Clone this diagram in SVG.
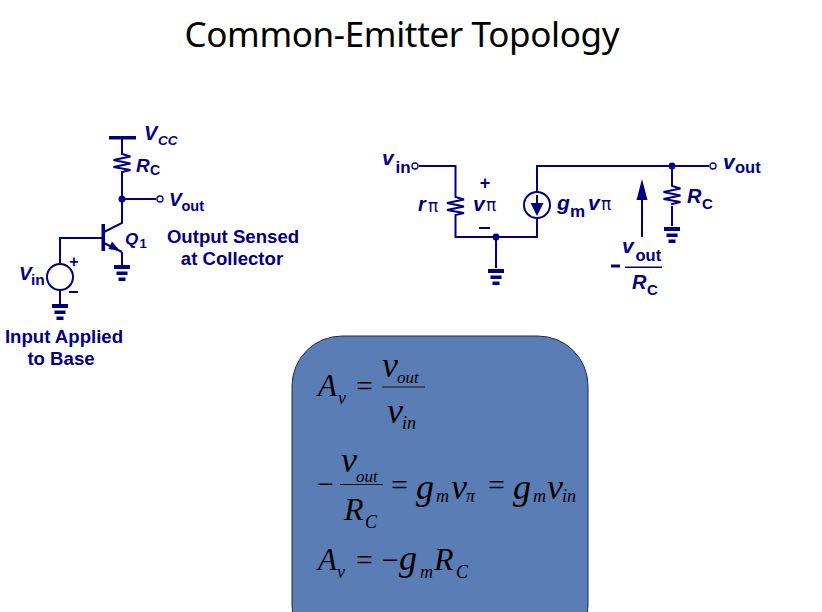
<svg xmlns="http://www.w3.org/2000/svg" width="822" height="612" viewBox="0 0 822 612">
<style>
.w{fill:none;stroke:#000080;stroke-width:2}
.r{fill:none;stroke:#000080;stroke-width:1.900;stroke-linejoin:miter}
.d{fill:#000080}
.o{fill:#fff;stroke:#000080;stroke-width:1.300}
.a{font-family:"Liberation Sans",Arial,sans-serif;fill:#000080;font-weight:700}
.i{font-style:italic}
.n{font-style:normal}
.p{font-family:"DejaVu Sans",sans-serif;font-weight:400;font-style:normal;font-size:17px}
.m{font-family:"Liberation Serif","Times New Roman",serif;fill:#000;font-style:italic}
.e{font-family:"Liberation Serif","Times New Roman",serif;fill:#000;font-size:30px}
.b{fill:none;stroke:#111;stroke-width:1.200}
</style>
<defs>
<g id="gnd"><rect x="-8" y="-1" width="16" height="4" class="d"/><rect x="-5.500" y="5.500" width="11" height="3.500" class="d"/><rect x="-3.500" y="11.500" width="7" height="3.500" class="d"/></g>
<path id="res" class="r" d="M0 0L0 2L8.500 4.500L-8.500 8L8.500 11.500L-8.500 15L8.500 18L0 20L0 21"/>
</defs>
<text x="402" y="47" text-anchor="middle" style="font-family:'Noto Sans',sans-serif;font-size:35px;fill:#000" textLength="435" lengthAdjust="spacing">Common-Emitter Topology</text>

<g id="connectors">
<path class="w" d="M122 138V153M122 172V223L104 232M60 263V238H102M122 252V266M60 290V304"/>
<path class="w" d="M122 199H156"/>
<path class="w" d="M419 166H455.500V195M455.500 216V237H537V218M537 192V166H709M496 237V268M672 166V185M672 206V226"/>
<path class="w" d="M642 237V195"/>
<path class="d" d="M642 179L647.500 200H636.500Z"/>
</g>

<g id="q1">
<rect x="109" y="136" width="27" height="3.500" class="d"/>
<use href="#res" x="122" y="152"/>
<circle cx="122" cy="199" r="3.500" class="d"/>
<circle cx="160" cy="199" r="3" class="o"/>
<rect x="101.500" y="224" width="3.500" height="27" class="d"/>
<path class="w" d="M104 243L122 252"/>
<path class="d" d="M120 251L108.500 249L112 241.500Z"/>
<use href="#gnd" x="122" y="266"/>
<circle cx="60" cy="277" r="13" fill="#fff" stroke="#000080" stroke-width="2"/>
<use href="#gnd" x="60" y="305"/>
<text class="a i" x="144" y="140" font-size="20">V<tspan font-size="13.500" x="158" y="145">CC</tspan></text>
<text class="a i" x="136" y="172" font-size="19">R<tspan font-size="14" x="150" y="175" class="n">C</tspan></text>
<text class="a i" x="169" y="206" font-size="19">V<tspan font-size="14.500" x="181.500" y="211" class="n">out</tspan></text>
<text class="a i" x="125" y="245" font-size="17">Q<tspan font-size="13" x="139.500" y="248" class="n">1</tspan></text>
<text class="a" x="233" y="243" font-size="18.600" text-anchor="middle">Output Sensed</text>
<text class="a" x="232" y="265" font-size="18.600" text-anchor="middle">at Collector</text>
<text class="a i" x="19" y="280" font-size="19">V<tspan font-size="15.500" x="31" y="285" class="n">in</tspan></text>
<text class="a" x="74" y="267" font-size="16" text-anchor="middle">+</text>
<rect x="69" y="291" width="9" height="2" class="d"/>
<text class="a" x="64" y="343" font-size="18.600" text-anchor="middle">Input Applied</text>
<text class="a" x="61" y="365" font-size="18.600" text-anchor="middle">to Base</text>
</g>

<g id="small-signal">
<circle cx="415" cy="166" r="3" class="o"/>
<use href="#res" x="455.500" y="195"/>
<circle cx="496" cy="237" r="3.500" class="d"/>
<use href="#gnd" x="496" y="270"/>
<circle cx="537" cy="205" r="13" fill="#fff" stroke="#000080" stroke-width="2"/>
<path class="w" d="M537 195V205"/>
<path class="d" d="M537 216L530.500 203H543.500Z"/>
<circle cx="672" cy="166" r="3.500" class="d"/>
<circle cx="713" cy="166" r="3" class="o"/>
<use href="#res" x="672" y="184"/>
<use href="#gnd" x="672" y="228"/>
<text class="a i" x="382" y="165" font-size="21">v<tspan font-size="17" x="395.500" y="173" class="n">in</tspan></text>
<text class="a i" x="723" y="169" font-size="21">v<tspan font-size="16.500" x="735" y="173" class="n">out</tspan></text>
<text class="a i" x="418" y="211" font-size="20">r<tspan class="p" x="428" y="212">π</tspan></text>
<text class="a" x="485" y="189" font-size="18" text-anchor="middle">+</text>
<text class="a i" x="473" y="211" font-size="21">v<tspan class="p" x="486" y="211">π</tspan></text>
<rect x="479" y="227" width="11" height="2" class="d"/>
<text class="a i" x="557" y="210" font-size="21">g<tspan font-size="17" x="570" y="217" class="n">m</tspan><tspan x="588" y="210">v</tspan><tspan class="p" x="601" y="210">π</tspan></text>
<text class="a i" x="687" y="203" font-size="20">R<tspan font-size="15" x="702" y="209" class="n">C</tspan></text>
<rect x="611" y="264.500" width="9" height="3" class="d"/>
<text class="a i" x="622" y="253" font-size="21">v<tspan font-size="16.500" x="635.500" y="261" class="n">out</tspan></text>
<rect x="625" y="266.500" width="37" height="1.500" class="d"/>
<text class="a i" x="632" y="289" font-size="20">R<tspan font-size="15" x="647" y="295" class="n">C</tspan></text>
</g>

<g id="equations">
<rect x="292" y="336" width="296" height="320" rx="50" fill="#5a7db5" stroke="#1f2f4a" stroke-width="1"/>
<text class="m" x="318" y="396" font-size="31">A<tspan font-size="18" x="338" y="404">v</tspan></text>
<text class="e" x="356" y="396">=</text>
<text class="m" x="382" y="377" font-size="36">v<tspan font-size="17" x="397" y="383">out</tspan></text>
<line class="b" x1="382" y1="387" x2="425" y2="387"/>
<text class="m" x="387" y="423" font-size="36">v<tspan font-size="18" x="402" y="429">in</tspan></text>
<text class="e" x="317" y="494">−</text>
<text class="m" x="341" y="472" font-size="36">v<tspan font-size="17" x="356" y="482">out</tspan></text>
<line class="b" x1="340" y1="484.500" x2="383" y2="484.500"/>
<text class="m" x="344" y="520" font-size="32">R<tspan font-size="18" x="365" y="528">C</tspan></text>
<text class="e" x="391" y="495">=</text>
<text class="m" x="416" y="499" font-size="36">g<tspan font-size="18" x="436" y="502">m</tspan><tspan font-size="36" x="451" y="499">v</tspan><tspan font-size="18" x="466" y="502">π</tspan></text>
<text class="e" x="488" y="495">=</text>
<text class="m" x="513" y="499" font-size="36">g<tspan font-size="18" x="533" y="502">m</tspan><tspan font-size="36" x="547" y="499">v</tspan><tspan font-size="18" x="562" y="502">in</tspan></text>
<text class="m" x="318" y="570" font-size="31">A<tspan font-size="18" x="337" y="578">v</tspan></text>
<text class="e" x="356" y="570">=</text>
<text class="e" x="382" y="570">−</text>
<text class="m" x="399" y="570" font-size="36">g<tspan font-size="18" x="420" y="578">m</tspan><tspan font-size="32" x="434" y="570">R</tspan><tspan font-size="18" x="456" y="578">C</tspan></text>
</g>
</svg>
